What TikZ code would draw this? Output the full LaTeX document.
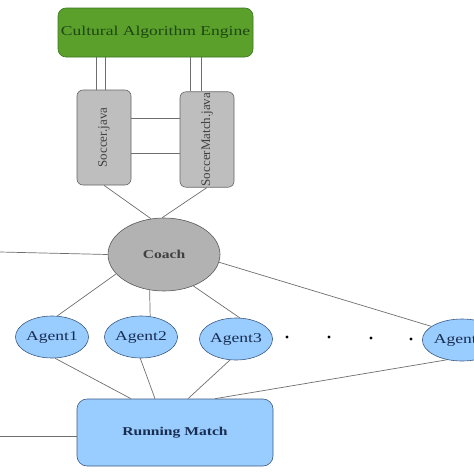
\documentclass[tikz,border=0pt]{standalone}
\usepackage{fontspec}
\setmainfont{Liberation Serif}
\newfontfamily\widefont{Liberation Serif}[FakeStretch=1.3]
\usepackage{tikz}
\usetikzlibrary{shapes.geometric}

\definecolor{enginegreen}{RGB}{90,160,42}
\definecolor{engineline}{RGB}{60,120,35}
\definecolor{enginetext}{RGB}{30,70,20}
\definecolor{boxgray}{RGB}{190,190,190}
\definecolor{coachgray}{RGB}{178,178,178}
\definecolor{agentblue}{RGB}{153,204,255}
\definecolor{agentline}{RGB}{60,90,130}
\definecolor{agenttext}{RGB}{25,45,80}
\definecolor{linkgray}{RGB}{110,110,110}

\begin{document}
\begin{tikzpicture}[x=1pt, y=-1pt, semithick,
  engine/.style={draw=engineline, fill=enginegreen, rounded corners=8pt,
    minimum width=195pt, minimum height=49pt, text=enginetext, inner sep=1pt,
    font=\widefont\fontsize{13.5}{15}\selectfont},
  javabox/.style={draw=black!60, fill=boxgray, rounded corners=6pt, inner sep=1pt,
    minimum width=54pt, minimum height=95pt, text=black!75,
    font=\fontsize{13}{15}\selectfont},
  coachnode/.style={ellipse, draw=black!65, fill=coachgray,
    minimum width=112pt, minimum height=73pt, text=black!75,
    font=\widefont\bfseries\fontsize{12}{14}\selectfont},
  agent/.style={ellipse, draw=agentline, fill=agentblue, inner sep=0pt,
    minimum width=61pt, minimum height=42pt, text=agenttext,
    font=\widefont\fontsize{13.5}{15}\selectfont},
  matchbox/.style={draw=agentline, fill=agentblue, rounded corners=10pt,
    minimum width=196pt, minimum height=67pt, text=agenttext,
    font=\widefont\bfseries\fontsize{12}{14}\selectfont},
  link/.style={draw=linkgray, line width=0.7pt}]

  \useasboundingbox (0,0) rectangle (474,474);

  \node [engine] (engine) at (155.5,32.5) {Cultural Algorithm Engine};
  \node [javabox] (soccer) at (104,137.5) {\rotatebox{90}{Soccer.java}};
  \node [javabox] (match) at (207,139.5) {\rotatebox{90}{SoccerMatch.java}};

  \node [coachnode] (coach) at (164,254.5) {Coach};

  \node [agent] (agent1) at (52,337) {Agent1};
  \node [agent] (agent2) at (141,337) {Agent2};
  \node [agent] (agent3) at (236,339) {Agent3};
  \node [agent, minimum width=64pt] (agentn) at (462,340) {Agent n};

  \node [matchbox] (running) at (175,432.5) {Running Match};

  \coordinate (outCoach) at (0,252);
  \coordinate (outMatch) at (0,436);

  % dots between the agents
  \foreach \dx/\dy in {287/337, 329/337, 371/338, 411/339}
    \fill (\dx,\dy) circle (1.6pt);

  % engine to the java classes, two lines each
  \foreach \sx in {-8,1}
    \draw [link] ([xshift=\sx pt]soccer.north) -- ([xshift=\sx pt]soccer.north |- engine.south);
  \foreach \sx in {-17,-6}
    \draw [link] ([xshift=\sx pt]match.north) -- ([xshift=\sx pt]match.north |- engine.south);

  \path [link]
    ([yshift=19.5pt]soccer.east) edge ([yshift=19.5pt]soccer.east -| match.west)
    ([yshift=-15.5pt]soccer.east) edge ([yshift=-15.5pt]soccer.east -| match.west)
    (soccer.south) edge (coach.110)
    (match.south)  edge (coach.93)
    (outCoach)     edge (coach.west)
    (coach.202)    edge (agent1.76)
    (coach.248)    edge (agent2.66)
    (coach.313)    edge (agent3.80)
    (coach.352)    edge (agentn.156)
    (agent1.278)   edge ([xshift=-44pt]running.north)
    (agent2.268)   edge ([xshift=-20pt]running.north)
    (agent3.254)   edge ([xshift=13pt]running.north)
    (agentn.233)   edge ([xshift=40pt]running.north)
    (outMatch)     edge (outMatch -| running.west)
  ;

\end{tikzpicture}
\end{document}
